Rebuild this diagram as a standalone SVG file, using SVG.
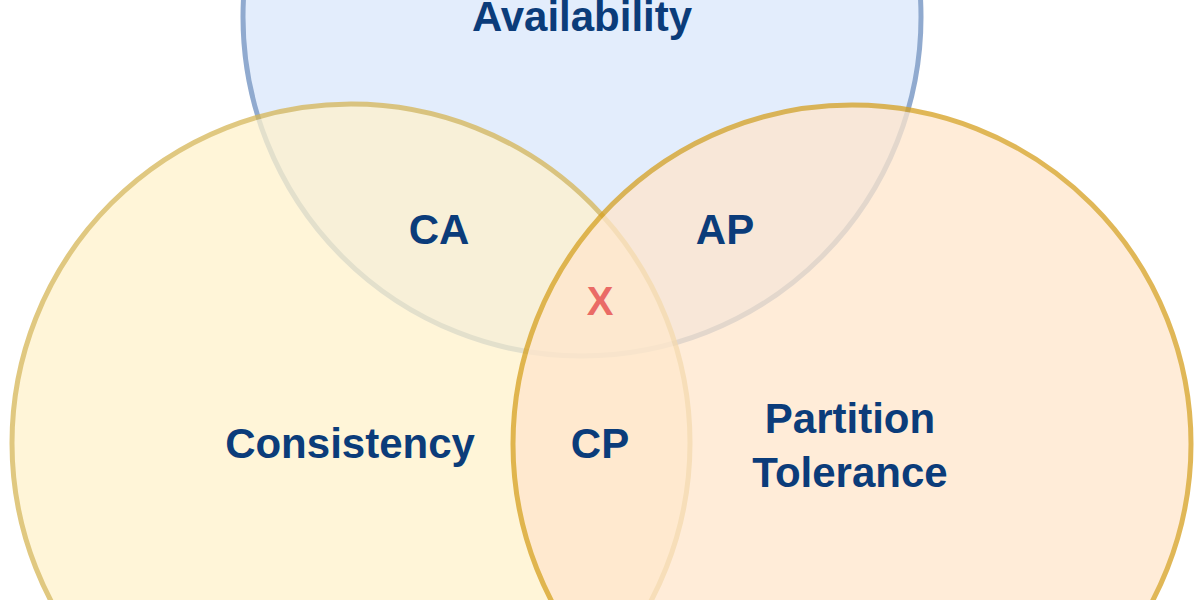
<svg xmlns="http://www.w3.org/2000/svg" width="1200" height="600" viewBox="0 0 1200 600">
<style>
.c{stroke-width:5;opacity:0.75}
.t{font-family:"Liberation Sans",Arial,sans-serif;font-weight:bold;font-size:42px;fill:#0b3c7a;text-anchor:middle}
</style>
<rect width="1200" height="600" fill="#ffffff"/>
<g id="availability"><circle class="c" cx="582" cy="17" r="339" fill="#dae8fc" stroke="#6c8ebf"/></g>
<g id="consistency"><circle class="c" cx="351" cy="443" r="339" fill="#fff2cc" stroke="#d6b656"/></g>
<g id="partition"><circle class="c" cx="852" cy="444" r="339" fill="#ffe6cc" stroke="#d6a020"/></g>
<g id="labels">
<text class="t" x="582" y="31">Availability</text>
<text class="t" x="439" y="244">CA</text>
<text class="t" x="725" y="244">AP</text>
<text class="t" x="600" y="315" style="fill:#ea6b66;font-size:40px">X</text>
<text class="t" x="350" y="458">Consistency</text>
<text class="t" x="600" y="458">CP</text>
<text class="t" x="850" y="433">Partition</text>
<text class="t" x="850" y="487">Tolerance</text>
</g>
<g id="connectors"/>
</svg>
